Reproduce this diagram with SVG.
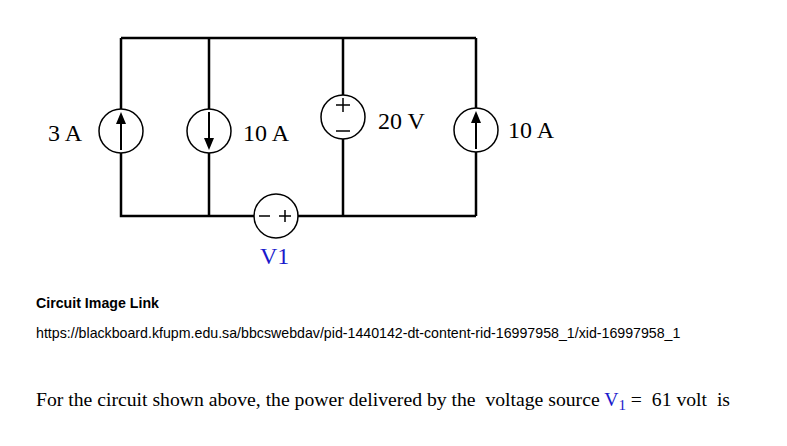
<svg xmlns="http://www.w3.org/2000/svg" width="787" height="446" viewBox="0 0 787 446">
<style>
.w{stroke:#000;stroke-width:2.5;fill:none}
.c{stroke:#000;stroke-width:1.5;fill:#fff}
.t{font-family:"Liberation Serif",serif;font-size:24px;fill:#000}
.s{font-family:"Liberation Sans",sans-serif;font-size:14.2px;fill:#000}
</style>
<rect width="787" height="446" fill="#fff"/>
<g id="wires">
<path class="w" d="M121,38H476M121,38V216H476M209,38V216M343,38V216M476,38V216"/>
</g>
<g id="I3">
<circle class="c" cx="121" cy="131" r="22"/>
<path d="M121,150V120" stroke="#000" stroke-width="2"/><path d="M116,124L121,112L126,124Z"/>
<text class="t" x="48" y="141">3 A</text>
</g>
<g id="I10a">
<circle class="c" cx="209" cy="131" r="22"/>
<path d="M209,112V142" stroke="#000" stroke-width="2"/><path d="M204,138L209,150L214,138Z"/>
<text class="t" x="243" y="141">10 A</text>
</g>
<g id="V20">
<circle class="c" cx="343" cy="117" r="22"/>
<path d="M336,105H350M343,98V112M336,131H350" stroke="#000" stroke-width="1.5"/>
<text class="t" x="378" y="129">20 V</text>
</g>
<g id="I10b">
<circle class="c" cx="476" cy="130" r="22"/>
<path d="M476,149V120" stroke="#000" stroke-width="2"/><path d="M471,123L476,111L481,123Z"/>
<text class="t" x="508" y="138">10 A</text>
</g>
<g id="V1">
<circle class="c" cx="276" cy="216" r="22"/>
<path d="M259,216H270M279,216H291M285,210V222" stroke="#000" stroke-width="1.5"/>
<text class="t" x="260" y="264" style="fill:#1a1acc">V1</text>
</g>
<text class="s" x="36" y="308" font-weight="bold">Circuit Image Link</text>
<text class="s" x="36" y="338">https://blackboard.kfupm.edu.sa/bbcswebdav/pid-1440142-dt-content-rid-16997958_1/xid-16997958_1</text>
<text x="36" y="406" xml:space="preserve" style="font-family:'Liberation Serif',serif;font-size:19.7px;white-space:pre">For the circuit shown above, the power delivered by the  voltage source <tspan fill="#1a1acc">V<tspan font-size="15" dy="4">1</tspan></tspan><tspan dy="-4"> =  61 volt  is</tspan></text>
</svg>
